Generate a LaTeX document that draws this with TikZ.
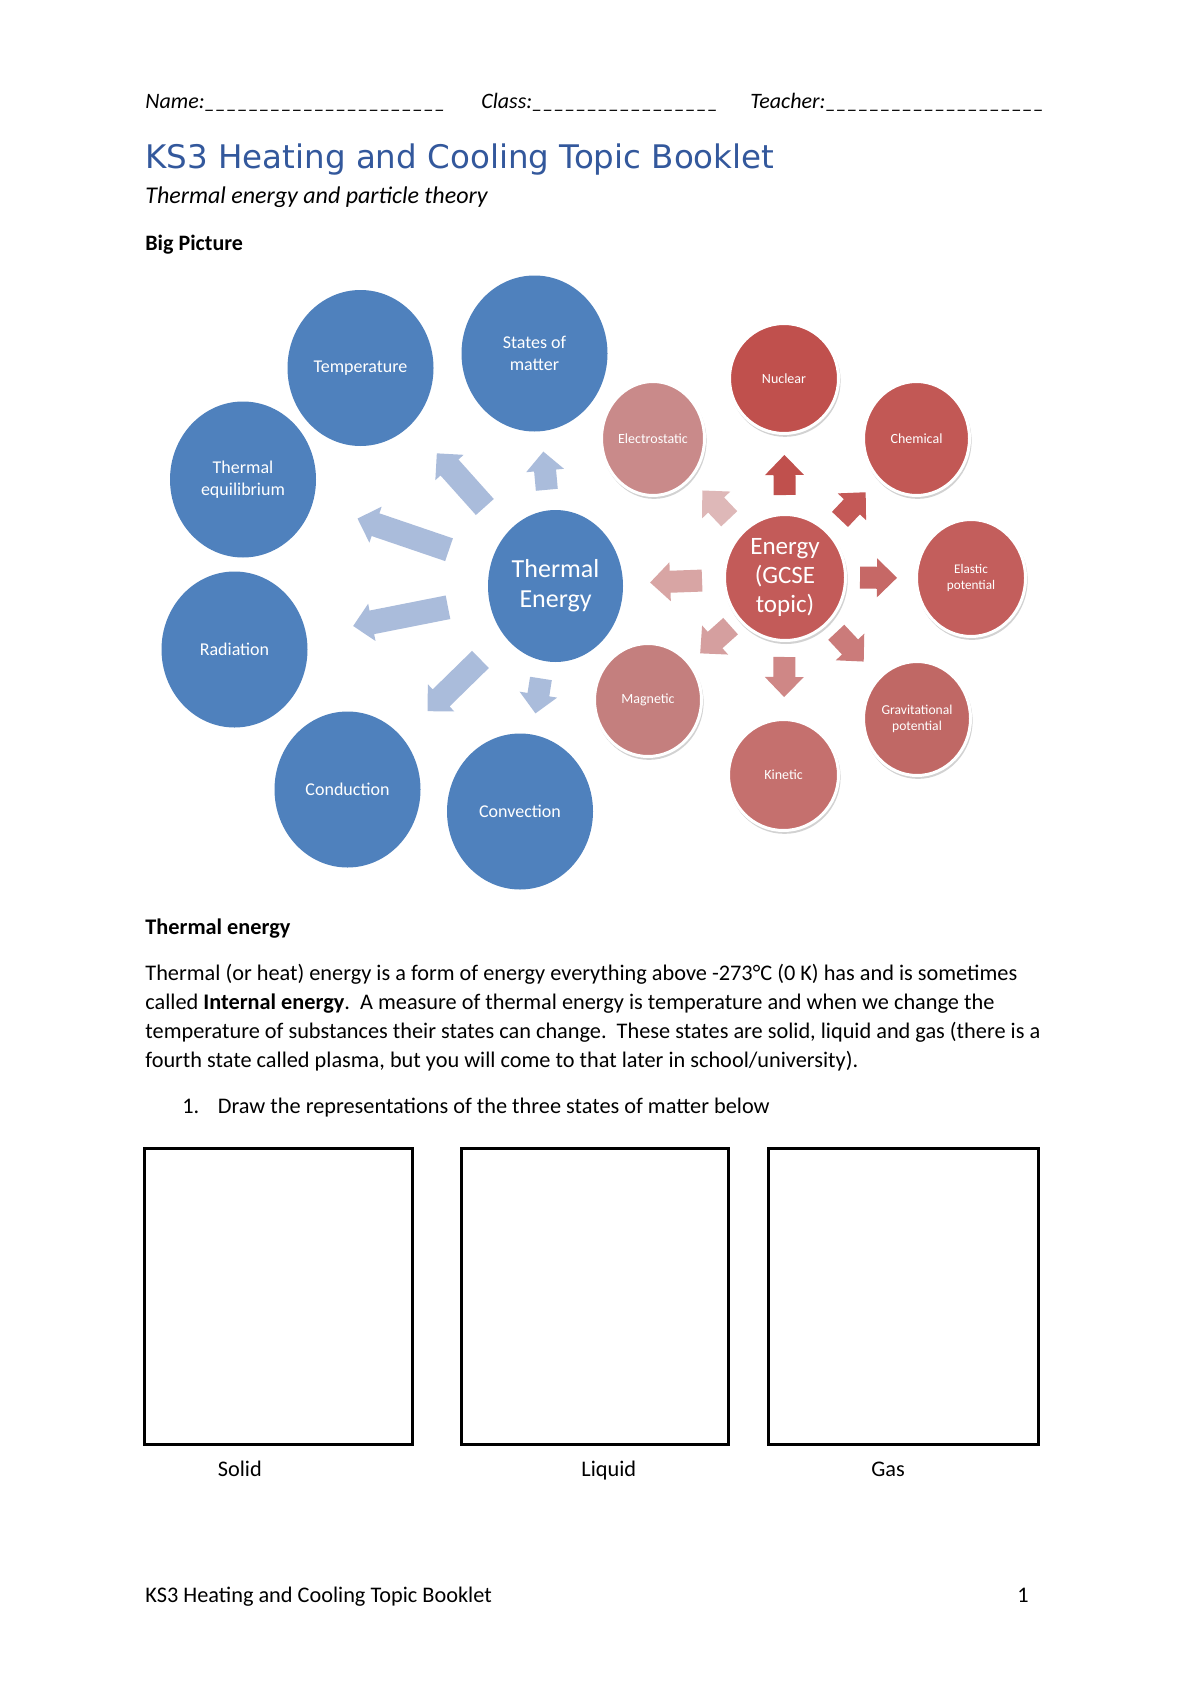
\documentclass[tikz,border=0pt]{standalone}
\usepackage{fontspec}
\setmainfont{Carlito}
\newfontfamily\titlefont{DejaVu Sans}
\usetikzlibrary{shapes.geometric,calc,shadows}
\definecolor{bluecirc}{HTML}{4F81BD}
\definecolor{barrow}{HTML}{AABCDB}
\definecolor{titleblue}{HTML}{33589C}
\definecolor{rNuc}{HTML}{C0504D}
\definecolor{rElec}{HTML}{C98A8A}
\definecolor{rChem}{HTML}{C25855}
\definecolor{rEn}{HTML}{C35B59}
\definecolor{rEla}{HTML}{C35E5C}
\definecolor{rMag}{HTML}{C47F7E}
\definecolor{rKin}{HTML}{C5706E}
\definecolor{rGrav}{HTML}{C06865}
\definecolor{raA}{HTML}{C0504D}
\definecolor{raB}{HTML}{C45957}
\definecolor{raC}{HTML}{C66866}
\definecolor{raD}{HTML}{CB7B7A}
\definecolor{raE}{HTML}{CF8786}
\definecolor{raF}{HTML}{D59F9F}
\definecolor{raG}{HTML}{D8A5A4}
\definecolor{raH}{HTML}{DEB8B8}
% block arrow between two named nodes:
% #1 colour, #2 from, #3 to, #4 start gap, #5 end gap, #6 shaft half width, #7 head half width, #8 head length
\newcommand\blockarr[8]{%
  \path ($(#2.center)!#4!(#3.center)$) coordinate (bT)
        ($(#3.center)!#5!(#2.center)$) coordinate (bP);
  \path ($(bP)!#8!(bT)$) coordinate (bH);
  \fill[#1] ($(bT)!#6!90:(bP)$) -- ($(bH)!#6!-90:(bT)$) -- ($(bH)!#7!-90:(bT)$)
     -- (bP) -- ($(bH)!#7!90:(bT)$) -- ($(bH)!#6!90:(bT)$) -- ($(bT)!#6!-90:(bP)$) -- cycle;
}
\begin{document}
\begin{tikzpicture}[x=0.5pt,y=-0.5pt,
  bcirc/.style={ellipse, fill=bluecirc, text=white, inner sep=0pt,
    minimum width=73pt, minimum height=78pt, align=center,
    font=\fontsize{9}{11}\selectfont},
  rcirc/.style={ellipse, draw=white, line width=1.5pt, text=white, inner sep=0pt,
    align=center, font=\fontsize{7}{8.5}\selectfont,
    drop shadow={opacity=0.35, shadow scale=1.02, shadow xshift=0.5pt, shadow yshift=-1.1pt}},
  txt/.style={anchor=base west, inner sep=0pt, font=\fontsize{11.15}{13}\selectfont},
  statebox/.style={draw=black, line width=1.5pt, inner sep=0pt, minimum height=148pt}
]
\fill[white] (0,0) rectangle (1200,1696);
\useasboundingbox (0,0) rectangle (1200,1696);

% header
\node[txt, font=\fontsize{11}{13}\selectfont\itshape] (name) at (145,109)
  {Name:\_\_\_\_\_\_\_\_\_\_\_\_\_\_\_\_\_\_\_\_\_\_};
\node[txt, font=\fontsize{11}{13}\selectfont\itshape] (class) at (481,109)
  {Class:\_\_\_\_\_\_\_\_\_\_\_\_\_\_\_\_\_};
\node[txt, font=\fontsize{11}{13}\selectfont\itshape] (teacher) at (750,109)
  {Teacher:\_\_\_\_\_\_\_\_\_\_\_\_\_\_\_\_\_\_\_\_};

\node[anchor=base west, inner sep=0pt, text=titleblue,
  font=\titlefont\fontsize{16.25}{19}\selectfont] (title) at (145,169)
  {KS3 Heating and Cooling Topic Booklet};
\node[txt, font=\fontsize{12}{14}\selectfont\itshape] (subtitle) at (145,204)
  {Thermal energy and particle theory};
\node[txt, font=\fontsize{11}{13}\selectfont\bfseries] (bigpic) at (145,250) {Big Picture};

% blue circles
\node[bcirc] (temp) at (360.5,368) {Temperature};
\node[bcirc] (som) at (534.5,353.5) {States of\\matter};
\node[bcirc] (teq) at (243,479.5) {Thermal\\equilibrium};
\node[bcirc] (rad) at (234.5,649.5) {Radiation};
\node[bcirc] (cond) at (347.5,789.5) {Conduction};
\node[bcirc] (conv) at (520,811.5) {Convection};
\node[bcirc, minimum width=67.5pt, minimum height=76pt,
  font=\fontsize{13}{15}\selectfont] (te) at (555.5,586) {Thermal\\Energy};

% red circles
\node[rcirc, fill=rNuc, minimum width=54.5pt, minimum height=55pt] (nuc) at (784,378.5) {Nuclear};
\node[rcirc, fill=rElec, minimum width=51.5pt, minimum height=57pt] (elec) at (653,438.5) {Electrostatic};
\node[rcirc, fill=rChem, minimum width=53pt, minimum height=57pt] (chem) at (916.5,438.5) {Chemical};
\node[rcirc, fill=rEn, minimum width=60.5pt, minimum height=63pt,
  font=\fontsize{12.5}{14.3}\selectfont] (en) at (785,577.5) {Energy\\(GCSE\\topic)};
\node[rcirc, fill=rEla, minimum width=54.5pt, minimum height=58.5pt,
  font=\fontsize{6.6}{8}\selectfont] (ela) at (971,578) {Elastic\\potential};
\node[rcirc, fill=rMag, minimum width=53.5pt, minimum height=56.5pt] (mag) at (648,700) {Magnetic};
\node[rcirc, fill=rKin, minimum width=55pt, minimum height=55.5pt] (kin) at (783.5,775) {Kinetic};
\node[rcirc, fill=rGrav, minimum width=53.5pt, minimum height=57pt,
  font=\fontsize{6.8}{8}\selectfont] (grav) at (917,718.5) {Gravitational\\potential};

% blue block arrows
\blockarr{barrow}{te}{temp}{53pt}{57.25pt}{6pt}{9.5pt}{9.5pt}
\blockarr{barrow}{te}{som}{48.3pt}{49.25pt}{5.5pt}{9.5pt}{9.5pt}
\blockarr{barrow}{te}{teq}{56.25pt}{60.5pt}{6pt}{9.5pt}{9.5pt}
\blockarr{barrow}{te}{rad}{54.8pt}{60.5pt}{6pt}{9.5pt}{9.5pt}
\blockarr{barrow}{te}{cond}{52.5pt}{56pt}{6pt}{9.5pt}{9.5pt}
\blockarr{barrow}{te}{conv}{46.8pt}{49.65pt}{5.5pt}{9.5pt}{9.5pt}

% red block arrows
\blockarr{raA}{en}{nuc}{41.25pt}{38.25pt}{5.5pt}{9.75pt}{10pt}
\blockarr{raB}{en}{chem}{40pt}{37pt}{5.5pt}{9.75pt}{10pt}
\blockarr{raC}{en}{ela}{37.5pt}{37pt}{5.5pt}{9.75pt}{10pt}
\blockarr{raD}{en}{grav}{37.5pt}{39pt}{5.5pt}{9.75pt}{10pt}
\blockarr{raE}{en}{kin}{39.75pt}{39pt}{5.5pt}{9.75pt}{10pt}
\blockarr{raF}{en}{mag}{36.5pt}{35pt}{5.5pt}{9.75pt}{10pt}
\blockarr{raG}{en}{te}{41.5pt}{47.35pt}{5.5pt}{9.75pt}{10pt}
\blockarr{raH}{en}{elec}{40.5pt}{35.85pt}{5.5pt}{9.75pt}{10pt}

% text
\node[txt, font=\fontsize{11.15}{13}\selectfont\bfseries] (thhead) at (145,934) {Thermal energy};
\node[txt] (p1) at (145,980) {Thermal (or heat) energy is a form of energy everything above -273°C (0 K) has and is sometimes};
\node[txt] (p2) at (145,1009) {called \textbf{Internal energy}.\ \ A measure of thermal energy is temperature and when we change the};
\node[txt] (p3) at (145,1038) {temperature of substances their states can change.\ \ These states are solid, liquid and gas (there is a};
\node[txt] (p4) at (145,1067) {fourth state called plasma, but you will come to that later in school/university).};
\node[txt] (qnum) at (182,1113) {1.};
\node[txt] (q1) at (217.5,1113) {Draw the representations of the three states of matter below};

% boxes
\node[statebox, minimum width=134pt] (solidbox) at (278,1296) {};
\node[statebox, minimum width=133.5pt] (liquidbox) at (594.5,1296) {};
\node[statebox, minimum width=135pt] (gasbox) at (903,1296) {};
\node[txt] (solid) at (217.5,1476) {Solid};
\node[txt] (liquid) at (581,1476) {Liquid};
\node[txt] (gas) at (871,1476) {Gas};

% footer
\node[txt] (footer) at (145,1602) {KS3 Heating and Cooling Topic Booklet};
\node[txt] (pagenum) at (1017,1602) {1};
\end{tikzpicture}
\end{document}
